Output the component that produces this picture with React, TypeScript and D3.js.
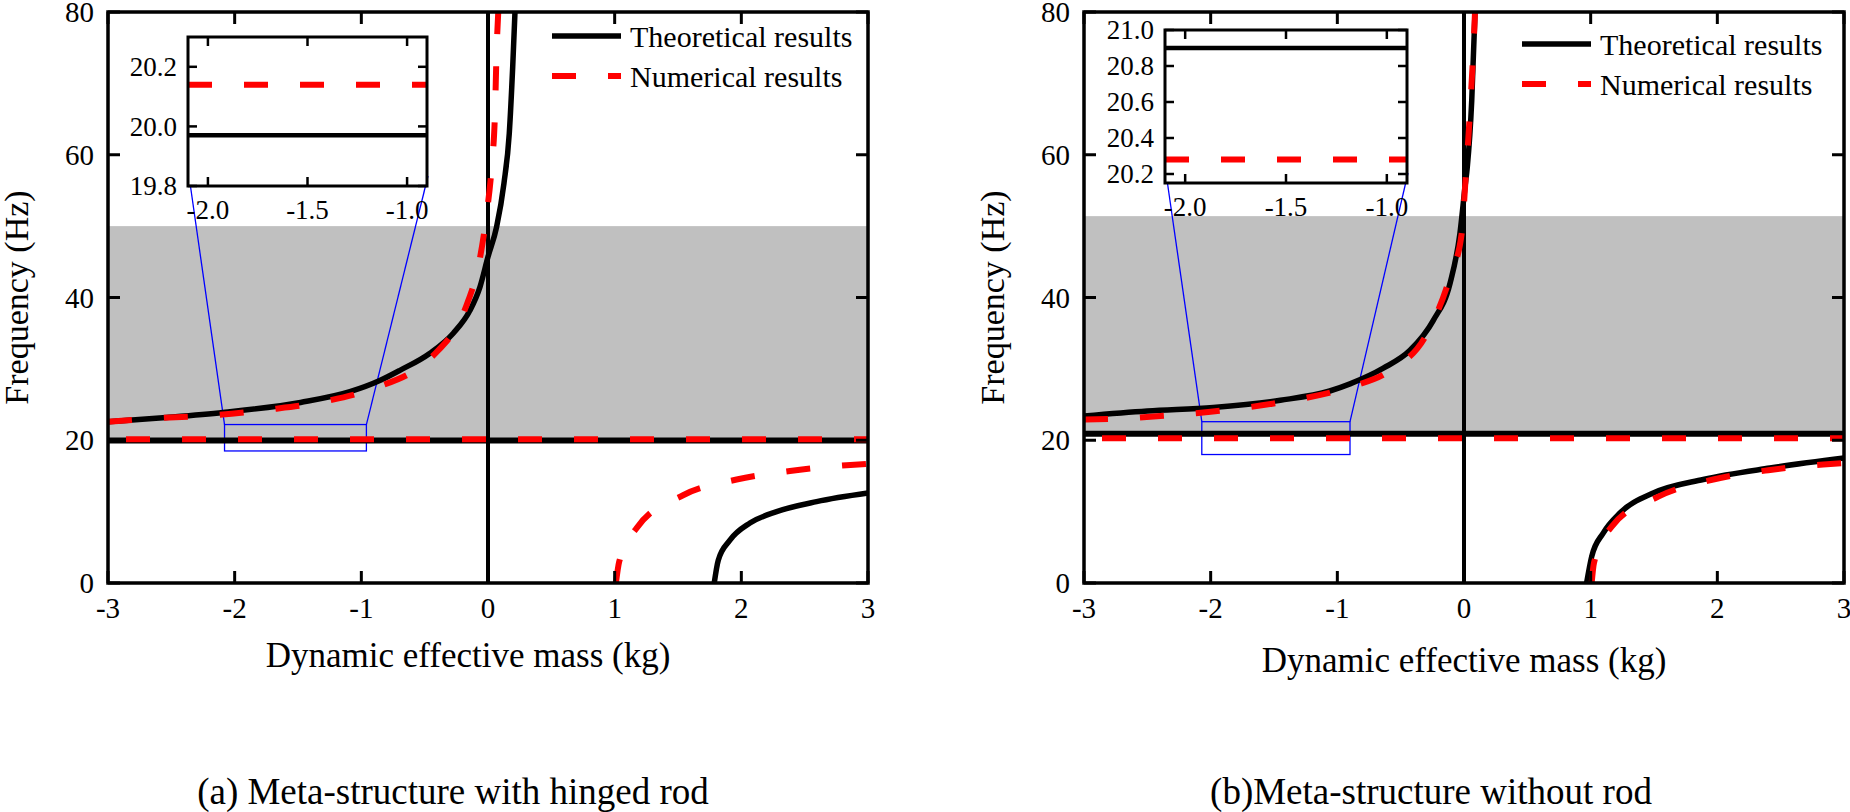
import * as d3 from 'd3';

type Pt = [number, number]; // [dynamic effective mass (kg), frequency (Hz)]

// (a) meta-structure with hinged rod
const theoryNegA: Pt[] = [
  [-3.0, 22.6], [-2.54, 23.2], [-2.09, 23.9], [-1.48, 25.3], [-1.09, 26.8], [-0.85, 28.4],
  [-0.695, 29.8], [-0.458, 32.2], [-0.274, 35.0], [-0.142, 38.2], [-0.063, 41.5], [0, 45.7],
  [0.068, 49.9], [0.126, 56.0], [0.168, 63.0], [0.195, 72.3], [0.213, 80],
];
const numericNegA: Pt[] = [
  [-3.0, 22.6], [-2.6, 23.1], [-2.17, 23.5], [-1.73, 24.3], [-1.3, 25.4], [-0.88, 27.4],
  [-0.537, 30.3], [-0.392, 32.6], [-0.247, 35.9], [-0.155, 39.6], [-0.077, 44.3], [-0.01, 51.8],
  [0.029, 58.3], [0.055, 65.8], [0.068, 74.6], [0.081, 80],
];
const theoryPosA: Pt[] = [
  [1.786, 0], [1.818, 3.2], [1.91, 6.0], [2.068, 8.4], [2.279, 10.0], [2.594, 11.4], [3.0, 12.6],
];
const numericPosA: Pt[] = [
  [1.01, 0], [1.036, 3.0], [1.174, 7.7], [1.54, 12.3], [1.963, 14.5], [2.384, 15.7], [2.83, 16.5], [3.0, 16.7],
];
const theoryFlatA = 19.97;
const numericFlatA = 20.14;
const bandGapA: [number, number] = [20, 50];
const zoomBoxA = { mass: [-2.08, -0.96], freq: [18.5, 22.2] };
const insetFreqDomainA: [number, number] = [19.8, 20.3];
const insetFreqTicksA = [19.8, 20.0, 20.2];

// (b) meta-structure without rod
const theoryNegB: Pt[] = [
  [-3.0, 23.4], [-2.5, 24.1], [-1.98, 24.6], [-1.45, 25.6], [-1.06, 26.9], [-0.9, 27.9],
  [-0.637, 30.1], [-0.426, 32.6], [-0.242, 36.8], [-0.11, 42.0], [-0.032, 49.0], [0.008, 55.5],
  [0.026, 58.3], [0.061, 67.6], [0.087, 80],
];
const numericNegB: Pt[] = [
  [-3.0, 22.9], [-2.77, 23.0], [-2.32, 23.5], [-1.89, 24.2], [-1.45, 25.3], [-1.03, 26.8],
  [-0.87, 27.6], [-0.58, 29.8], [-0.29, 35.0], [-0.11, 42.9], [-0.018, 49.0], [0.012, 56.5],
  [0.035, 62.5], [0.055, 68.5], [0.072, 74.0], [0.087, 80],
];
const theoryPosB: Pt[] = [
  [0.968, 0], [1.008, 3.7], [1.099, 7.0], [1.231, 9.8], [1.494, 12.6], [1.889, 14.5], [2.415, 16.1], [3.0, 17.5],
];
const numericPosB: Pt[] = [
  [1.008, 0], [1.026, 2.8], [1.166, 7.9], [1.534, 12.1], [1.968, 14.5], [2.402, 15.8], [2.836, 16.6], [3.0, 16.8],
];
const theoryFlatB = 20.9;
const numericFlatB = 20.28;
const bandGapB: [number, number] = [20.9, 51.4];
const zoomBoxB = { mass: [-2.07, -0.9], freq: [18.0, 22.6] };
const insetFreqDomainB: [number, number] = [20.15, 21.0];
const insetFreqTicksB = [20.2, 20.4, 20.6, 20.8, 21.0];

const massDomain: [number, number] = [-3, 3];
const freqDomain: [number, number] = [0, 80];
const massTicks = [-3, -2, -1, 0, 1, 2, 3];
const freqTicks = [0, 20, 40, 60, 80];
const insetMassDomain: [number, number] = [-2.1, -0.9];
const insetMassTicks = [-2.0, -1.5, -1.0];
const legendLabels = ['Theoretical results', 'Numerical results'];
const xTitle = 'Dynamic effective mass (kg)';
const yTitle = 'Frequency (Hz)';
const captions = ['(a) Meta-structure with hinged rod', '(b)Meta-structure without rod'];

const FONT = "'Liberation Serif', 'DejaVu Serif', serif";
const GAP_FILL = '#c0c0c0';
const RED = '#ff0000';
const BLUE = '#0000ff';
const DASH = '24 32';
const TICK = 12;
const INSET_TICK = 9;

// plain hyphen for negatives, one decimal
const fmt1 = (v: number) => v.toFixed(1);

interface PanelSpec {
  left: number; right: number; top: number; bottom: number;
  inset: { left: number; right: number; top: number; bottom: number };
  insetDomain: [number, number];
  insetTicks: number[];
  theoryNeg: Pt[]; numericNeg: Pt[]; theoryPos: Pt[]; numericPos: Pt[];
  theoryFlat: number; numericFlat: number;
  gap: [number, number];
  zoomBox: { mass: number[]; freq: number[] };
  legend: { x: number; y: number };
  xTitleX: number; xTitleY: number;
  caption: string; captionX: number;
}

const panels: PanelSpec[] = [
  {
    left: 108, right: 868, top: 12, bottom: 583,
    inset: { left: 188, right: 427, top: 37, bottom: 186 },
    insetDomain: insetFreqDomainA, insetTicks: insetFreqTicksA,
    theoryNeg: theoryNegA, numericNeg: numericNegA, theoryPos: theoryPosA, numericPos: numericPosA,
    theoryFlat: theoryFlatA, numericFlat: numericFlatA, gap: bandGapA, zoomBox: zoomBoxA,
    legend: { x: 552, y: 36 },
    xTitleX: 468, xTitleY: 667,
    caption: captions[0], captionX: 453,
  },
  {
    left: 1084, right: 1844, top: 12, bottom: 583,
    inset: { left: 1165, right: 1407, top: 30, bottom: 183 },
    insetDomain: insetFreqDomainB, insetTicks: insetFreqTicksB,
    theoryNeg: theoryNegB, numericNeg: numericNegB, theoryPos: theoryPosB, numericPos: numericPosB,
    theoryFlat: theoryFlatB, numericFlat: numericFlatB, gap: bandGapB, zoomBox: zoomBoxB,
    legend: { x: 1522, y: 44 },
    xTitleX: 1464, xTitleY: 672,
    caption: captions[1], captionX: 1431,
  },
];

function Inset({ s }: { s: PanelSpec }) {
  const b = s.inset;
  const ix = d3.scaleLinear().domain(insetMassDomain).range([b.left, b.right]);
  const iy = d3.scaleLinear().domain(s.insetDomain).range([b.bottom, b.top]);
  return (
    <g>
      <rect x={b.left} y={b.top} width={b.right - b.left} height={b.bottom - b.top} fill="#fff" />
      <line x1={b.left} x2={b.right} y1={iy(s.theoryFlat)} y2={iy(s.theoryFlat)} stroke="#000" strokeWidth={4.5} />
      <line x1={b.left} x2={b.right} y1={iy(s.numericFlat)} y2={iy(s.numericFlat)}
        stroke={RED} strokeWidth={6} strokeDasharray={DASH} />
      {insetMassTicks.map((t) => (
        <g key={`ix${t}`}>
          <line x1={ix(t)} x2={ix(t)} y1={b.bottom} y2={b.bottom - INSET_TICK} stroke="#000" strokeWidth={2.5} />
          <line x1={ix(t)} x2={ix(t)} y1={b.top} y2={b.top + INSET_TICK} stroke="#000" strokeWidth={2.5} />
          <text x={ix(t)} y={b.bottom + 33} textAnchor="middle" fontSize={27}>{fmt1(t)}</text>
        </g>
      ))}
      {s.insetTicks.map((t) => (
        <g key={`iy${t}`}>
          <line x1={b.left} x2={b.left + INSET_TICK} y1={iy(t)} y2={iy(t)} stroke="#000" strokeWidth={2.5} />
          <line x1={b.right} x2={b.right - INSET_TICK} y1={iy(t)} y2={iy(t)} stroke="#000" strokeWidth={2.5} />
          <text x={b.left - 11} y={iy(t)} dy="0.35em" textAnchor="end" fontSize={27}>{fmt1(t)}</text>
        </g>
      ))}
      <rect x={b.left} y={b.top} width={b.right - b.left} height={b.bottom - b.top}
        fill="none" stroke="#000" strokeWidth={3} />
    </g>
  );
}

function Panel({ s }: { s: PanelSpec }) {
  const x = d3.scaleLinear().domain(massDomain).range([s.left, s.right]);
  const y = d3.scaleLinear().domain(freqDomain).range([s.bottom, s.top]);
  const curve = d3.line<Pt>().x((d) => x(d[0])).y((d) => y(d[1])).curve(d3.curveMonotoneX);
  const zx0 = x(s.zoomBox.mass[0]);
  const zx1 = x(s.zoomBox.mass[1]);
  const zy0 = y(s.zoomBox.freq[1]);
  const zy1 = y(s.zoomBox.freq[0]);
  const lg = s.legend;

  return (
    <g>
      {/* band gap */}
      <rect x={s.left} y={y(s.gap[1])} width={s.right - s.left} height={y(s.gap[0]) - y(s.gap[1])} fill={GAP_FILL} />

      {/* zoom window and connectors to the inset */}
      <rect x={zx0} y={zy0} width={zx1 - zx0} height={zy1 - zy0} fill="none" stroke={BLUE} strokeWidth={1.3} />
      <line x1={s.inset.left + 1} y1={s.inset.bottom - 10} x2={zx0} y2={zy0} stroke={BLUE} strokeWidth={1.3} />
      <line x1={s.inset.right + 1} y1={s.inset.bottom - 10} x2={zx1} y2={zy0} stroke={BLUE} strokeWidth={1.3} />

      {/* m = 0 */}
      <line x1={x(0)} x2={x(0)} y1={y(freqDomain[0])} y2={y(freqDomain[1])} stroke="#000" strokeWidth={4} />

      {/* flat branches at the resonance */}
      <line x1={x(-3)} x2={x(3)} y1={y(s.theoryFlat)} y2={y(s.theoryFlat)} stroke="#000" strokeWidth={6} />
      <line x1={x(-3)} x2={x(3)} y1={y(s.numericFlat)} y2={y(s.numericFlat)}
        stroke={RED} strokeWidth={6} strokeDasharray={DASH} strokeDashoffset={38} />

      <path d={curve(s.theoryNeg) ?? ''} fill="none" stroke="#000" strokeWidth={5.5} />
      <path d={curve(s.theoryPos) ?? ''} fill="none" stroke="#000" strokeWidth={5.5} />
      <path d={curve(s.numericNeg) ?? ''} fill="none" stroke={RED} strokeWidth={6} strokeDasharray={DASH} />
      <path d={curve(s.numericPos) ?? ''} fill="none" stroke={RED} strokeWidth={6} strokeDasharray={DASH} />

      {/* frame and inward ticks */}
      <rect x={s.left} y={s.top} width={s.right - s.left} height={s.bottom - s.top}
        fill="none" stroke="#000" strokeWidth={3.5} />
      {massTicks.map((t) => (
        <g key={`x${t}`}>
          <line x1={x(t)} x2={x(t)} y1={s.bottom} y2={s.bottom - TICK} stroke="#000" strokeWidth={3} />
          <line x1={x(t)} x2={x(t)} y1={s.top} y2={s.top + TICK} stroke="#000" strokeWidth={3} />
          <text x={x(t)} y={618} textAnchor="middle" fontSize={29}>{t}</text>
        </g>
      ))}
      {freqTicks.map((t) => (
        <g key={`y${t}`}>
          <line x1={s.left} x2={s.left + TICK} y1={y(t)} y2={y(t)} stroke="#000" strokeWidth={3} />
          <line x1={s.right} x2={s.right - TICK} y1={y(t)} y2={y(t)} stroke="#000" strokeWidth={3} />
          <text x={s.left - 14} y={y(t)} dy="0.35em" textAnchor="end" fontSize={29}>{t}</text>
        </g>
      ))}

      <text x={s.xTitleX} y={s.xTitleY} textAnchor="middle" fontSize={35}>{xTitle}</text>
      <text transform={`translate(${s.left - 80},${(s.top + s.bottom) / 2}) rotate(-90)`}
        textAnchor="middle" fontSize={34}>{yTitle}</text>

      <Inset s={s} />

      {/* legend */}
      <line x1={lg.x} x2={lg.x + 69} y1={lg.y} y2={lg.y} stroke="#000" strokeWidth={5.5} />
      <text x={lg.x + 78} y={lg.y + 11} fontSize={30}>{legendLabels[0]}</text>
      <line x1={lg.x} x2={lg.x + 69} y1={lg.y + 40} y2={lg.y + 40} stroke={RED} strokeWidth={6} strokeDasharray={DASH} />
      <text x={lg.x + 78} y={lg.y + 51} fontSize={30}>{legendLabels[1]}</text>

      <text x={s.captionX} y={804} textAnchor="middle" fontSize={37}>{s.caption}</text>
    </g>
  );
}

export default function App() {
  return (
    <svg width={1850} height={812}
      style={{ position: 'absolute', left: 0, top: 0, background: '#fff', fontFamily: FONT }}>
      <rect width={1850} height={812} fill="#fff" />
      {panels.map((p, i) => <Panel key={i} s={p} />)}
    </svg>
  );
}
